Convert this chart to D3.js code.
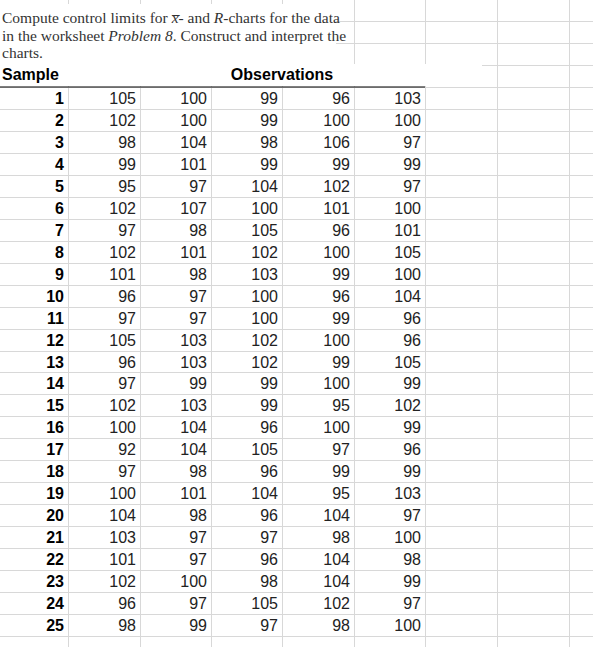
<!DOCTYPE html>
<html><head><meta charset="utf-8">
<script src="https://cdn.jsdelivr.net/npm/d3@7"></script>
<style>body{margin:0;background:#fff}</style>
</head><body>
<svg id="c" width="593" height="647"></svg>
<script>
"use strict";

const samples = d3.range(1, 26);
const obs1 = [105,102,98,99,95,102,97,102,101,96,97,105,96,97,102,100,92,97,100,104,103,101,102,96,98];
const obs2 = [100,100,104,101,97,107,98,101,98,97,97,103,103,99,103,104,104,98,101,98,97,97,100,97,99];
const obs3 = [99,99,98,99,104,100,105,102,103,100,100,102,102,99,99,96,105,96,104,96,97,96,98,105,97];
const obs4 = [96,100,106,99,102,101,96,100,99,96,99,100,99,100,95,100,97,99,95,104,98,104,104,102,98];
const obs5 = [103,100,97,99,97,100,101,105,100,104,96,96,105,99,102,99,96,99,103,97,100,98,99,97,100];
const columns = [obs1, obs2, obs3, obs4, obs5];
const titleLines = [
  ["Compute control limits for ", {t:"x\u0305", i:true}, "- and ", {t:"R", i:true}, "-charts for the data"],
  ["in the worksheet ", {t:"Problem 8", i:true}, ". Construct and interpret the"],
  ["charts."]
];

const svg = d3.select("#c");
const colEdges = [-3, 68, 140, 211, 282, 354, 425, 497, 569, 640];
const y = d3.scaleLinear().domain([1, 25]).range([98, 625]);
const rowH = y(2) - y(1);

// grid
const g = svg.append("g").attr("stroke", "#d8d8d8").attr("stroke-width", 1);
g.selectAll("line.v").data(colEdges).enter().append("line")
  .attr("x1", d => d + 0.5).attr("x2", d => d + 0.5).attr("y1", 0).attr("y2", 647);
const hLines = d3.range(-4, 28).map(i => y(1) + (i - 0.5) * rowH);
g.selectAll("line.h").data(hLines).enter().append("line")
  .attr("x1", 0).attr("x2", 593).attr("y1", d => Math.round(d) + 0.5).attr("y2", d => Math.round(d) + 0.5);

// text box over the grid
svg.append("rect").attr("x", 0).attr("y", 4).attr("width", 336).attr("height", 60).attr("fill", "#fff");
svg.append("rect").attr("x", 0).attr("y", 64).attr("width", 482).attr("height", 22).attr("fill", "#fff");

titleLines.forEach((parts, li) => {
  const t = svg.append("text").attr("x", 2).attr("y", 23 + li * 17.5)
    .attr("font-family", "'Liberation Serif','Times New Roman',serif").attr("font-size", 15.5).attr("fill", "#333");
  parts.forEach(p => {
    if (typeof p === "string") t.append("tspan").text(p);
    else t.append("tspan").attr("font-style", "italic").text(p.t);
  });
});

const sans = "'Liberation Sans', Arial, sans-serif";
svg.append("text").attr("x", 2).attr("y", 80).attr("font-family", sans).attr("font-weight", "bold")
  .attr("font-size", 16).text("Sample");
svg.append("text").attr("x", 282).attr("y", 80).attr("text-anchor", "middle").attr("font-family", sans)
  .attr("font-weight", "bold").attr("font-size", 16).text("Observations");
svg.append("line").attr("x1", 0).attr("x2", 425).attr("y1", 87).attr("y2", 87).attr("stroke", "#000").attr("stroke-width", 1.2);

// sample numbers
svg.selectAll("text.s").data(samples).enter().append("text")
  .attr("x", 64).attr("y", d => y(d) + 6).attr("text-anchor", "end")
  .attr("font-family", sans).attr("font-weight", "bold").attr("font-size", 16).text(d => d);

// observations
columns.forEach((col, ci) => {
  svg.selectAll("text.o" + ci).data(col).enter().append("text")
    .attr("x", colEdges[ci + 2] - 4).attr("y", (d, i) => y(samples[i]) + 6).attr("text-anchor", "end")
    .attr("font-family", sans).attr("font-size", 16).attr("fill", "#222").text(d => d);
});
</script>
</body></html>
